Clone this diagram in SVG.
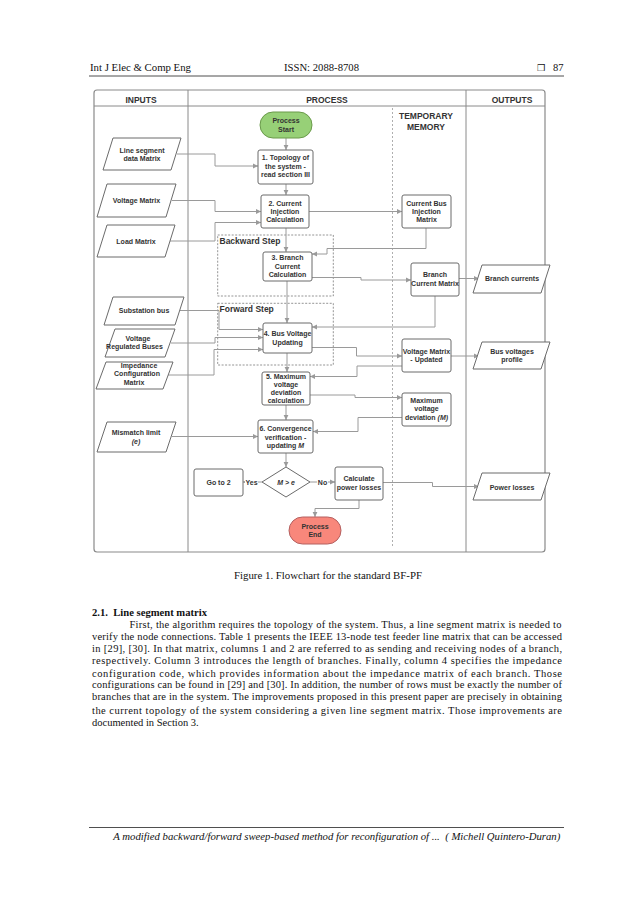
<svg xmlns="http://www.w3.org/2000/svg" width="638" height="902" viewBox="0 0 638 902">
<defs>
<marker id="ar" markerUnits="userSpaceOnUse" markerWidth="6" markerHeight="6" refX="5" refY="3" orient="auto">
<path d="M0,0.6 L5,3 L0,5.4 z" fill="#9a9a9a"/>
</marker>
<style>
.t{font-family:"Liberation Sans",Arial,sans-serif;font-weight:bold;font-size:7px;fill:#333;text-anchor:middle}
.h{font-family:"Liberation Sans",Arial,sans-serif;font-weight:bold;font-size:8.5px;fill:#333;text-anchor:middle}
.s{font-family:"Liberation Sans",Arial,sans-serif;font-weight:bold;font-size:8.5px;fill:#333}
.box{fill:#fff;stroke:#6b6b6b;stroke-width:1}
.io{fill:#fff;stroke:#6b6b6b;stroke-width:1}
.c{fill:none;stroke:#9a9a9a;stroke-width:1;stroke-linejoin:round}
.ca{fill:none;stroke:#9a9a9a;stroke-width:1;stroke-linejoin:round;marker-end:url(#ar)}
.dash{fill:none;stroke:#7a7a7a;stroke-width:0.8;stroke-dasharray:2,1.5}
.p{font-family:"Liberation Serif","Times New Roman",serif;font-size:10.5px;fill:#111}
</style>
</defs>
<rect width="638" height="902" fill="#fff"/>

<!-- page header -->
<g id="page-header">
<text class="p" x="90" y="71" font-size="11" textLength="101" lengthAdjust="spacingAndGlyphs">Int J Elec &amp; Comp Eng</text>
<text class="p" x="284" y="71" font-size="11" textLength="75" lengthAdjust="spacingAndGlyphs">ISSN: 2088-8708</text>
<text x="537" y="71" font-family="DejaVu Sans, sans-serif" font-size="9" fill="#111">❒</text>
<text class="p" x="553" y="71" font-size="11">87</text>
<line x1="89" y1="76" x2="564" y2="76" stroke="#222" stroke-width="0.8"/>
</g>

<!-- swimlane frame -->
<g id="frame">
<rect x="94" y="90" width="451" height="462" rx="3" fill="none" stroke="#8a8a8a" stroke-width="1.2"/>
<line x1="94" y1="106" x2="545" y2="106" stroke="#8a8a8a" stroke-width="1"/>
<line x1="188" y1="90" x2="188" y2="552" stroke="#8a8a8a" stroke-width="1"/>
<line x1="466" y1="90" x2="466" y2="552" stroke="#8a8a8a" stroke-width="1"/>
<line x1="392.5" y1="108" x2="392.5" y2="546" stroke="#9a9a9a" stroke-width="0.8" stroke-dasharray="2,2"/>
<text class="h" x="141" y="103">INPUTS</text>
<text class="h" x="327" y="103">PROCESS</text>
<text class="h" x="512" y="103">OUTPUTS</text>
<text class="h" x="426" y="119">TEMPORARY</text>
<text class="h" x="426" y="130">MEMORY</text>
</g>

<!-- step groups -->
<g id="backward-step">
<rect class="dash" x="217.7" y="235" width="115.6" height="61"/>
<text class="s" x="219.5" y="244">Backward Step</text>
</g>
<g id="forward-step">
<rect class="dash" x="217.7" y="303.3" width="115.6" height="61.7"/>
<text class="s" x="219.5" y="312.3">Forward Step</text>
</g>

<!-- connectors -->
<g id="connectors">
<path class="ca" d="M286,138 V150"/>
<path class="ca" d="M286,184 V195"/>
<path class="ca" d="M286,228 V252"/>
<path class="ca" d="M287,281 V323"/>
<path class="ca" d="M287,353 V372"/>
<path class="ca" d="M286,405 V420"/>
<path class="ca" d="M286,453 V467"/>
<path class="ca" d="M177,154 H215 V166 H258"/>
<path class="ca" d="M172,200.5 H215 V211.5 H261"/>
<path class="ca" d="M170,241 H215 V222.5 H261"/>
<path class="ca" d="M309,211.5 H402"/>
<path class="ca" d="M426,228 V248.5 H327 V254 H312"/>
<path class="ca" d="M312,277.5 H361 V280 H411"/>
<path class="ca" d="M459,278.5 H479"/>
<path class="ca" d="M435,296 V327 H312"/>
<path class="ca" d="M180,310.5 H219 V329.5 H263"/>
<path class="ca" d="M171,343 H215 V337.5 H263"/>
<path class="ca" d="M168,375 H214 V349.5 H263"/>
<path class="ca" d="M312,347.5 H356.5 V356 H402"/>
<path class="ca" d="M451,356 H479"/>
<path class="ca" d="M402,366 H357 V376.5 H310"/>
<path class="ca" d="M310,395 H355 V397.5 H402"/>
<path class="ca" d="M402,417.5 H358 V431.5 H313"/>
<path class="ca" d="M172,436.5 H258"/>
<path class="ca" d="M262,482 H243"/>
<path class="ca" d="M310,482 H335"/>
<path class="ca" d="M383,482.5 H432.5 V486.5 H479"/>
<path class="ca" d="M359,500 V508.5 H315 V517"/>
<rect x="245" y="477" width="13" height="9" fill="#fff"/>
<text class="t" x="251.5" y="484.5" font-weight="normal">Yes</text>
<rect x="317" y="477" width="11" height="9" fill="#fff"/>
<text class="t" x="322.5" y="484.5" font-weight="normal">No</text>
</g>

<!-- process nodes -->
<g id="start">
<rect x="260" y="112" width="52" height="26" rx="13" fill="#97d077" stroke="#6a9a4a" stroke-width="1"/>
<text class="t" x="286" y="122.5">Process</text>
<text class="t" x="286" y="131.5">Start</text>
</g>
<g id="step1">
<rect class="box" x="258" y="150" width="55" height="34" rx="2"/>
<text class="t" x="285.5" y="160">1. Topology of</text>
<text class="t" x="285.5" y="168.5">the system -</text>
<text class="t" x="285.5" y="177">read section III</text>
</g>
<g id="step2">
<rect class="box" x="261" y="195" width="48" height="33" rx="2"/>
<text class="t" x="285" y="205.5">2. Current</text>
<text class="t" x="285" y="213.5">Injection</text>
<text class="t" x="285" y="222">Calculation</text>
</g>
<g id="step3">
<rect class="box" x="263" y="252" width="49" height="29" rx="2"/>
<text class="t" x="287.5" y="260">3. Branch</text>
<text class="t" x="287.5" y="268.5">Current</text>
<text class="t" x="287.5" y="276.5">Calculation</text>
</g>
<g id="step4">
<rect class="box" x="263" y="323" width="49" height="30" rx="2"/>
<text class="t" x="287.5" y="336">4. Bus Voltage</text>
<text class="t" x="287.5" y="344.5">Updating</text>
</g>
<g id="step5">
<rect class="box" x="262" y="372" width="48" height="33" rx="2"/>
<text class="t" x="286" y="378.5">5. Maximum</text>
<text class="t" x="286" y="386.5">voltage</text>
<text class="t" x="286" y="395">deviation</text>
<text class="t" x="286" y="403.3">calculation</text>
</g>
<g id="step6">
<rect class="box" x="258" y="420" width="55" height="33" rx="2"/>
<text class="t" x="285.5" y="431">6. Convergence</text>
<text class="t" x="285.5" y="439.5">verification -</text>
<text class="t" x="285.5" y="447.5">updating <tspan font-style="italic">M</tspan></text>
</g>
<g id="decision">
<polygon class="box" points="286,467 310,482 286,497 262,482"/>
<text class="t" x="286" y="485" font-size="8.5" font-style="italic" font-weight="normal">M &gt; e</text>
</g>
<g id="goto2">
<rect class="box" x="194" y="469" width="49" height="27" rx="2"/>
<text class="t" x="218.5" y="485">Go to 2</text>
</g>
<g id="calc-losses">
<rect class="box" x="335" y="467" width="48" height="33" rx="2"/>
<text class="t" x="359" y="481">Calculate</text>
<text class="t" x="359" y="489.5">power losses</text>
</g>
<g id="end">
<rect x="289" y="517" width="52" height="27" rx="13.5" fill="#f8877b" stroke="#b46060" stroke-width="1"/>
<text class="t" x="315" y="528.5">Process</text>
<text class="t" x="315" y="536.5">End</text>
</g>

<!-- temporary memory nodes -->
<g id="current-bus-injection">
<rect class="box" x="402" y="195" width="49" height="33" rx="2"/>
<text class="t" x="426.5" y="205.5">Current Bus</text>
<text class="t" x="426.5" y="213.5">Injection</text>
<text class="t" x="426.5" y="222">Matrix</text>
</g>
<g id="branch-current-matrix">
<rect class="box" x="411" y="263" width="48" height="33" rx="2"/>
<text class="t" x="435" y="277">Branch</text>
<text class="t" x="435" y="285.5">Current Matrix</text>
</g>
<g id="voltage-matrix-updated">
<rect class="box" x="402" y="339" width="49" height="33" rx="2"/>
<text class="t" x="426.5" y="353.5">Voltage Matrix</text>
<text class="t" x="426.5" y="362">- Updated</text>
</g>
<g id="max-voltage-deviation">
<rect class="box" x="402" y="393" width="49" height="33" rx="2"/>
<text class="t" x="426.5" y="402.8">Maximum</text>
<text class="t" x="426.5" y="411">voltage</text>
<text class="t" x="426.5" y="419.5">deviation <tspan font-style="italic">(M)</tspan></text>
</g>

<!-- inputs -->
<g id="line-segment-input">
<polygon class="io" points="113,138 181,138 171,170 103,170"/>
<text class="t" x="142" y="153">Line segment</text>
<text class="t" x="142" y="161">data Matrix</text>
</g>
<g id="voltage-matrix-input">
<polygon class="io" points="107,184 176,184 166,217 97,217"/>
<text class="t" x="136.5" y="203">Voltage Matrix</text>
</g>
<g id="load-matrix-input">
<polygon class="io" points="107,225 175,225 165,257 97,257"/>
<text class="t" x="136" y="243.5">Load Matrix</text>
</g>
<g id="substation-input">
<polygon class="io" points="113,297 184,297 175,325 104,325"/>
<text class="t" x="144" y="313">Substation bus</text>
</g>
<g id="regulated-buses-input">
<polygon class="io" points="115,329 175,329 165,357 105,357"/>
<text class="t" x="138" y="340.5">Voltage</text>
<text class="t" x="134.5" y="348.8">Regulated Buses</text>
</g>
<g id="impedance-input">
<polygon class="io" points="106,362 173,362 163,389 96,389"/>
<text class="t" x="139" y="368">Impedance</text>
<text class="t" x="137" y="376">Configuration</text>
<text class="t" x="134" y="384.5">Matrix</text>
</g>
<g id="mismatch-input">
<polygon class="io" points="107,422 176,422 166,452 97,452"/>
<text class="t" x="136" y="435">Mismatch limit</text>
<text class="t" x="136" y="443.5" font-style="italic">(e)</text>
</g>

<!-- outputs -->
<g id="branch-currents-output">
<polygon class="io" points="482,265 550,265 541,293 473,293"/>
<text class="t" x="512" y="281">Branch currents</text>
</g>
<g id="bus-voltages-output">
<polygon class="io" points="482,342 550,342 541,369 473,369"/>
<text class="t" x="512" y="353.5">Bus voltages</text>
<text class="t" x="512" y="362">profile</text>
</g>
<g id="power-losses-output">
<polygon class="io" points="482,473 550,473 541,500 473,500"/>
<text class="t" x="512" y="489.5">Power losses</text>
</g>

<!-- caption and body text -->
<g id="caption">
<text class="p" x="328" y="578.5" text-anchor="middle" textLength="188" lengthAdjust="spacingAndGlyphs">Figure 1. Flowchart for the standard BF-PF</text>
</g>
<g id="body">
<text class="p" x="92" y="615.8" font-weight="bold" textLength="115" lengthAdjust="spacingAndGlyphs" xml:space="preserve">2.1.  Line segment matrix</text>
<text class="p" x="129.5" y="627.8" textLength="432" lengthAdjust="spacing">First, the algorithm requires the topology of the system. Thus, a line segment matrix is needed to</text>
<text class="p" x="92" y="639.8" textLength="470" lengthAdjust="spacing">verify the node connections. Table 1 presents the IEEE 13-node test feeder line matrix that can be accessed</text>
<text class="p" x="92" y="652.2" textLength="470" lengthAdjust="spacing">in [29], [30]. In that matrix, columns 1 and 2 are referred to as sending and receiving nodes of a branch,</text>
<text class="p" x="92" y="663.8" textLength="470" lengthAdjust="spacing">respectively. Column 3 introduces the length of branches. Finally, column 4 specifies the impedance</text>
<text class="p" x="92" y="676.5" textLength="470" lengthAdjust="spacing">configuration code, which provides information about the impedance matrix of each branch. Those</text>
<text class="p" x="92" y="688.2" textLength="470" lengthAdjust="spacing">configurations can be found in [29] and [30]. In addition, the number of rows must be exactly the number of</text>
<text class="p" x="92" y="700.2" textLength="470" lengthAdjust="spacing">branches that are in the system. The improvements proposed in this present paper are precisely in obtaining</text>
<text class="p" x="92" y="713.8" textLength="470" lengthAdjust="spacing">the current topology of the system considering a given line segment matrix. Those improvements are</text>
<text class="p" x="92" y="725.8">documented in Section 3.</text>
</g>

<!-- footer -->
<g id="page-footer">
<line x1="89" y1="827.5" x2="564" y2="827.5" stroke="#222" stroke-width="0.8"/>
<text class="p" x="113.3" y="839.5" font-style="italic" textLength="447" lengthAdjust="spacingAndGlyphs" xml:space="preserve">A modified backward/forward sweep-based method for reconfiguration of ...  ( Michell Quintero-Duran)</text>
</g>
</svg>
